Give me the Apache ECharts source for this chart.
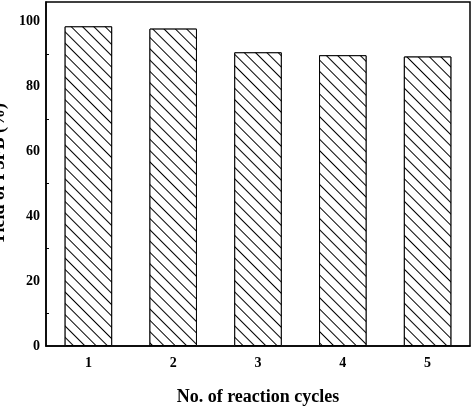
<!DOCTYPE html>
<html><head><meta charset="utf-8">
<script src="https://cdn.jsdelivr.net/npm/echarts@6/dist/echarts.min.js"></script>
<style>html,body{margin:0;padding:0;background:#fff}#c{width:474px;height:407px}</style>
</head><body><div id="c"></div>
<script>
const cycles = ['1', '2', '3', '4', '5'];
const yields = [98.5, 97.8, 90.5, 89.6, 89.2];

const font = { fontFamily: 'Liberation Serif', fontWeight: 'bold', color: '#000' };
const chart = echarts.init(document.getElementById('c'));
chart.setOption({
  animation: false,
  grid: { left: 46, right: 4, top: 2, bottom: 61, containLabel: false, outerBoundsMode: 'none' },
  xAxis: {
    type: 'category', data: cycles,
    name: 'No. of reaction cycles', nameLocation: 'middle', nameGap: 42,
    nameTextStyle: Object.assign({ fontSize: 18 }, font),
    axisLine: { lineStyle: { color: '#000', width: 1.5 } },
    axisTick: { inside: true, alignWithLabel: true, length: 5, lineStyle: { color: '#000' } },
    axisLabel: Object.assign({ fontSize: 14, margin: 10 }, font),
  },
  yAxis: {
    type: 'value', min: 0, max: 106, interval: 20,
    name: 'Yield of P3FB (%)', nameLocation: 'middle', nameGap: 30,
    nameTextStyle: Object.assign({ fontSize: 18 }, font),
    axisLine: { show: true, lineStyle: { color: '#000', width: 1.5 } },
    axisTick: { inside: true, length: 5, lineStyle: { color: '#000' } },
    minorTick: { show: true, splitNumber: 2, length: 3, lineStyle: { color: '#000' } },
    splitLine: { show: false },
    axisLabel: Object.assign({ fontSize: 14, margin: 6, showMaxLabel: false }, font),
  },
  series: [{
    type: 'bar', data: yields, barWidth: '56%',
    itemStyle: {
      color: '#fff', borderColor: '#000', borderWidth: 1,
      decal: { color: '#000', backgroundColor: '#fff', symbol: 'rect', dashArrayX: [1, 0], dashArrayY: [1, 7], rotation: Math.PI / 4 }
    }
  }],
  graphic: [{ type: 'rect', shape: { x: 46, y: 2, width: 424, height: 344 }, style: { fill: 'none', stroke: '#000', lineWidth: 1.5 }, silent: true }]
});
</script></body></html>
